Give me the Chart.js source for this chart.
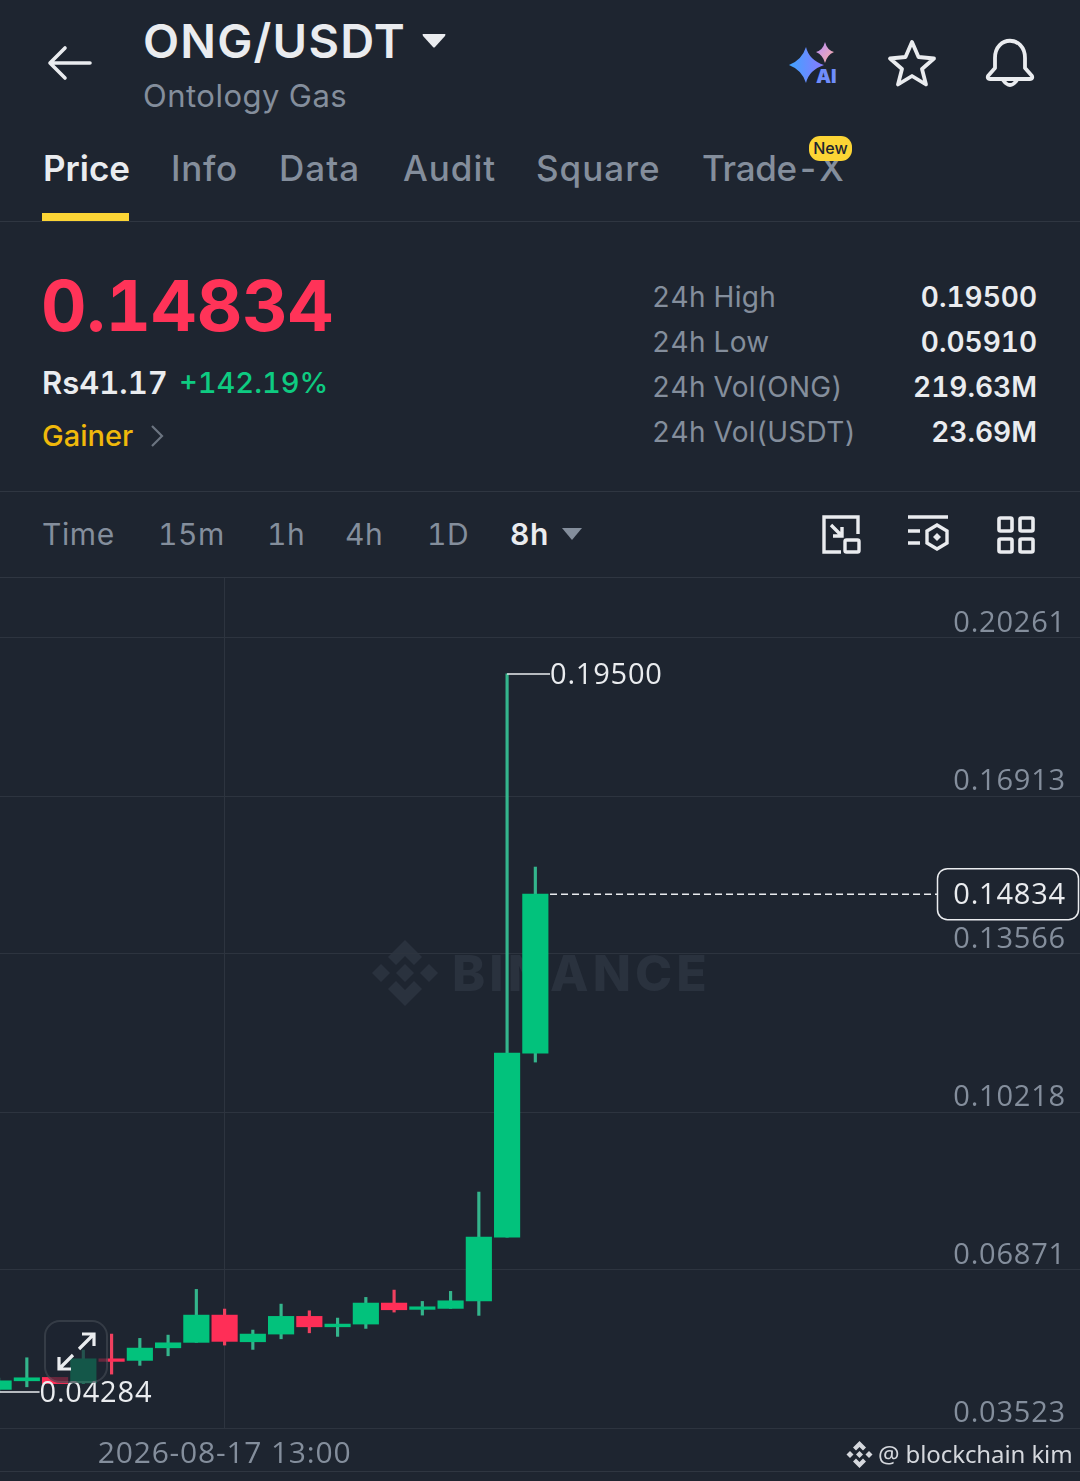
<!DOCTYPE html>
<html lang="en">
<head>
<meta charset="UTF-8">
<title>ONG/USDT</title>
<style>
  html, body { margin: 0; padding: 0; background: #1e2530; }
  body { position: relative; width: 1080px; height: 1481px; overflow: hidden; font-family: Inter, sans-serif; color: #eaecef; font-variant-numeric: tabular-nums; }
  .t { position: absolute; white-space: nowrap; line-height: 1; }
  .grey { color: #848e9c; }
  .tab { top: 151px; font-size: 35px; color: #848e9c; font-weight: 500; letter-spacing: .7px; }
  .rng { top: 519px; font-size: 30px; color: #848e9c; letter-spacing: .6px; }
  .lbl { left: 652px; font-size: 28px; color: #848e9c; letter-spacing: .3px; }
  .val { right: 43px; font-size: 28px; font-weight: 600; }
  .hr { position: absolute; left: 0; width: 1080px; height: 1px; background: #2f3641; }
  svg { position: absolute; overflow: visible; }
  #chart { position: absolute; left: 0; top: 578px; }
</style>
<script src="https://cdn.jsdelivr.net/npm/chart.js"></script>
</head>
<body>
<!-- header -->
<svg style="left:48px;top:46px" width="44" height="34" fill="none" stroke="#eaecef" stroke-width="3.6" stroke-linecap="round" stroke-linejoin="round"><path d="M2 17H42M17 2L2 17L17 32"/></svg>
<div class="t" style="left:143px;top:17px;font-size:47px;font-weight:600;letter-spacing:1.2px">ONG/USDT</div>
<svg style="left:422px;top:34px" width="24" height="14"><path d="M1 0H23Q24 0 23 2L13 13Q12 14 11 13L1 2Q0 0 1 0Z" fill="#eaecef"/></svg>
<div class="t grey" style="left:143px;top:80px;font-size:31px;letter-spacing:.5px">Ontology Gas</div>

<svg style="left:788px;top:40px" width="52" height="46">
  <defs>
    <linearGradient id="aiA" x1="0" y1="0" x2="1" y2="0"><stop offset="0" stop-color="#3fa4ff"/><stop offset="1" stop-color="#8a78ff"/></linearGradient>
    <linearGradient id="aiB" x1="0" y1="0" x2="1" y2="1"><stop offset="0" stop-color="#b48cff"/><stop offset="1" stop-color="#ffb0a0"/></linearGradient>
  </defs>
  <path d="M18 7Q21 20 36 25Q21 30 18 43Q14 30 1 25Q14 20 18 7Z" fill="url(#aiA)"/>
  <path d="M37 2Q39 10 46 12Q39 15 37 23Q35 15 28 12Q35 10 37 2Z" fill="url(#aiB)"/>
  <text x="28" y="43" font-family="Inter" font-size="19" font-weight="900" fill="#6f8dfb">AI</text>
</svg>
<svg style="left:888px;top:40px" width="48" height="47" fill="none" stroke="#eaecef" stroke-width="3.8" stroke-linejoin="round"><path d="M24 2L30.5 17L46 18.5L34 29L38 44.5L24 36L10 44.5L14 29L2 18.5L17.5 17Z"/></svg>
<svg style="left:986px;top:38px" width="48" height="50" fill="none" stroke="#eaecef" stroke-width="3.8" stroke-linejoin="round"><path d="M9 30V20C9 -3 39 -3 39 20V30L46 38Q47 41 44 41H4Q1 41 2 38Z"/><path d="M17 42Q24 52 31 42"/></svg>

<!-- tabs -->
<div class="t tab" style="left:43px;color:#eaecef;font-weight:600;letter-spacing:0">Price</div>
<div class="t tab" style="left:171px">Info</div>
<div class="t tab" style="left:279px;letter-spacing:1px">Data</div>
<div class="t tab" style="left:403px;letter-spacing:1px">Audit</div>
<div class="t tab" style="left:536px;letter-spacing:1px">Square</div>
<div class="t tab" style="left:702px;letter-spacing:-.3px">Trade-X</div>
<div class="t" style="left:809px;top:136px;width:43px;height:25px;line-height:25px;text-align:center;background:#fcd535;border-radius:11px;color:#1e2530;font-size:16px;font-weight:500">New</div>
<div style="position:absolute;left:42px;top:213px;width:87px;height:8px;background:#fcd535"></div>
<div class="hr" style="top:221px"></div>

<!-- price block -->
<div class="t" style="left:41px;top:271px;font-size:70.5px;font-weight:700;color:#ff3358">0.14834</div>
<div class="t" style="left:42px;top:367px;font-size:31px;font-weight:600">Rs41.17</div>
<div class="t" style="left:179px;top:368px;font-size:29px;font-weight:500;color:#0ecb81">+142.19%</div>
<div class="t" style="left:42px;top:421px;font-size:29px;font-weight:500;color:#f0b90b">Gainer</div>
<svg style="left:150px;top:425px" width="14" height="22" fill="none" stroke="#6b7480" stroke-width="2.2"><path d="M2 1L12 11L2 21"/></svg>

<div class="t lbl" style="top:283px">24h High</div><div class="t val" style="top:283px">0.19500</div>
<div class="t lbl" style="top:328px">24h Low</div><div class="t val" style="top:328px">0.05910</div>
<div class="t lbl" style="top:373px">24h Vol(ONG)</div><div class="t val" style="top:373px">219.63M</div>
<div class="t lbl" style="top:418px">24h Vol(USDT)</div><div class="t val" style="top:418px">23.69M</div>
<div class="hr" style="top:491px"></div>

<!-- interval row -->
<div class="t rng" style="left:42px">Time</div>
<div class="t rng" style="left:158px">15m</div>
<div class="t rng" style="left:267px">1h</div>
<div class="t rng" style="left:345px">4h</div>
<div class="t rng" style="left:427px">1D</div>
<div class="t rng" style="left:510px;color:#eaecef;font-weight:600">8h</div>
<svg style="left:562px;top:528px" width="20" height="12"><path d="M0 0H20L10 12Z" fill="#848e9c"/></svg>
<svg style="left:822px;top:515px" width="40" height="40" fill="none" stroke="#eaecef" stroke-width="3.4"><path d="M36 19V2H2V37H19"/><rect x="23" y="25" width="14" height="12" rx="1.5"/><path d="M9 10L20 21M20 12V21H11"/></svg>
<svg style="left:907px;top:515px" width="42" height="40" fill="none" stroke="#eaecef" stroke-width="3.4"><path d="M1 2H41M1 16H13M1 28H13"/><path d="M30 10L40 16V28L30 34L20 28V16Z"/><path d="M30 18L34 22L30 26L26 22Z" fill="#eaecef" stroke="none"/></svg>
<svg style="left:997px;top:516px" width="38" height="38" fill="none" stroke="#eaecef" stroke-width="3.6"><rect x="2" y="2" width="13" height="13" rx="1.5"/><rect x="23" y="2" width="13" height="13" rx="1.5"/><rect x="2" y="23" width="13" height="13" rx="1.5"/><rect x="23" y="23" width="13" height="13" rx="1.5"/></svg>
<div class="hr" style="top:577px"></div>

<!-- watermark under the chart -->
<svg style="left:372px;top:940px" width="66" height="66" fill="#2a323e"><path d="M33 0L50 17L42 25L33 16L24 25L16 17Z"/><path d="M33 66L50 49L42 41L33 50L24 41L16 49Z"/><path d="M33 24L42 33L33 42L24 33Z"/><path d="M9 24L18 33L9 42L0 33Z"/><path d="M57 24L66 33L57 42L48 33Z"/></svg>
<div class="t" style="left:452px;top:948px;font-size:50px;font-weight:800;letter-spacing:4.1px;color:#2a323e">BINANCE</div>

<canvas id="chart" width="1080" height="903"></canvas>

<!-- fullscreen button sits on top of the candles -->
<div style="position:absolute;left:44px;top:1320px;width:60px;height:59px;border:2px solid rgba(255,255,255,.11);border-radius:16px;background:rgba(30,37,48,.68)"></div>
<svg style="left:57px;top:1332px" width="40" height="40" fill="none" stroke="#eaecef" stroke-width="3.2"><path d="M22 17L37 2M25 2H37V14M16 23L2 37M2 25V37H14"/></svg>

<!-- footer -->
<svg style="left:846px;top:1441px" width="27" height="27" fill="#d5d8dd"><path d="M13.5 0L20 6.5L17 9.5L13.5 6L10 9.5L7 6.5Z"/><path d="M13.5 27L20 20.500L17 17.500L13.500 21L10 17.500L7 20.500Z"/><path d="M13.500 10L17 13.500L13.500 17L10 13.500Z"/><path d="M4 10L7.500 13.500L4 17L.5 13.500Z"/><path d="M23 10L26.500 13.500L23 17L19.500 13.500Z"/></svg>
<div class="t" style="left:878px;top:1442px;font-size:24px;font-family:'Noto Sans';letter-spacing:-.1px;color:#d5d8dd">@ blockchain kim</div>
<div class="hr" style="top:1471px"></div>

<script>
// 8h candles, oldest first; the first one is cut off by the left edge
const categories = [
  '2026-08-14 21:00', '2026-08-15 05:00', '2026-08-15 13:00', '2026-08-15 21:00', '2026-08-16 05:00',
  '2026-08-16 13:00', '2026-08-16 21:00', '2026-08-17 05:00', '2026-08-17 13:00', '2026-08-17 21:00',
  '2026-08-18 05:00', '2026-08-18 13:00', '2026-08-18 21:00', '2026-08-19 05:00', '2026-08-19 13:00',
  '2026-08-19 21:00', '2026-08-20 05:00', '2026-08-20 13:00', '2026-08-20 21:00', '2026-08-21 05:00'
];
const opens  = [0.04341, 0.04523, 0.04595, 0.04481, 0.04989, 0.04955, 0.05222, 0.05337, 0.05915, 0.05350,
                0.05513, 0.05888, 0.05667, 0.05725, 0.06170, 0.06036, 0.06057, 0.06218, 0.07568, 0.11467];
const closes = [0.04523, 0.04587, 0.04464, 0.04989, 0.04934, 0.05216, 0.05328, 0.05915, 0.05358, 0.05513,
                0.05888, 0.05667, 0.05725, 0.06170, 0.06028, 0.06091, 0.06218, 0.07568, 0.11467, 0.14834];
const highs  = [0.04580, 0.05011, 0.04595, 0.05174, 0.05513, 0.05422, 0.05491, 0.06460, 0.06043, 0.05598,
                0.06148, 0.06006, 0.05852, 0.06290, 0.06445, 0.06205, 0.06418, 0.08522, 0.19500, 0.15408];
const lows   = [0.04284, 0.04396, 0.04464, 0.04474, 0.04665, 0.04850, 0.05053, 0.05337, 0.05280, 0.05188,
                0.05413, 0.05540, 0.05464, 0.05633, 0.05979, 0.05915, 0.06057, 0.05909, 0.07568, 0.11276];
const yTicks = [0.20261, 0.16913, 0.13566, 0.10218, 0.06871, 0.03523];
const xTick = 8;
const lastPrice = 0.14834, lastIndex = 19;
const highPrice = 0.19500, highIndex = 18;
const lowPrice = 0.04284;

const UP = '#02c27c', DOWN = '#ff2e57';
const UP_WICK = '#34b58c', DOWN_WICK = '#f0405f';
const isUp = i => closes[i] >= opens[i];
const TEXT = '#eaecef', GRID = '#2d343f';
const AXIS_FONT = 'Open Sans';

// price labels on the marker lines
const priceMarks = {
  id: 'priceMarks',
  beforeDraw(chart) {
    chart.ctx.letterSpacing = '0.8px';
  },
  afterDatasetsDraw(chart) {
    const { ctx, scales: { x, y } } = chart;
    ctx.save();
    ctx.font = '29px "' + AXIS_FONT + '"';
    ctx.textBaseline = 'middle';
    ctx.fillStyle = TEXT;
    ctx.fillText(highPrice.toFixed(5), x.getPixelForValue(highIndex + 1.52), y.getPixelForValue(highPrice) + 2);
    ctx.fillText(lowPrice.toFixed(5), x.getPixelForValue(1.45), y.getPixelForValue(lowPrice) + 2);

    const py = y.getPixelForValue(lastPrice);
    ctx.beginPath();
    ctx.roundRect(937.5, py - 25.5, 141, 51, 10);
    ctx.fillStyle = '#1e2530';
    ctx.fill();
    ctx.strokeStyle = TEXT;
    ctx.lineWidth = 1.5;
    ctx.stroke();
    ctx.fillStyle = TEXT;
    ctx.textAlign = 'right';
    ctx.fillText(lastPrice.toFixed(5), 1066, py + 2);
    ctx.restore();
  }
};

new Chart(document.getElementById('chart'), {
  data: {
    datasets: [
      {
        type: 'line',
        data: [{ x: lastIndex + 0.52, y: lastPrice }, { x: 33.22, y: lastPrice }],
        borderColor: TEXT, borderWidth: 1.5, borderDash: [7, 4], pointRadius: 0, order: 0
      },
      {
        type: 'line',
        data: [{ x: highIndex, y: highPrice }, { x: highIndex + 1.52, y: highPrice }],
        borderColor: TEXT, borderWidth: 1.5, pointRadius: 0, order: 0
      },
      {
        type: 'line',
        data: [{ x: 0, y: lowPrice }, { x: 1.45, y: lowPrice }],
        borderColor: TEXT, borderWidth: 1.5, pointRadius: 0, order: 0
      },
      {
        type: 'bar',
        data: opens.map((o, i) => ({ x: i, y: [o, closes[i]] })),
        backgroundColor: opens.map((o, i) => isUp(i) ? UP : DOWN),
        barThickness: 25.5, grouped: false, order: 1
      },
      {
        type: 'bar',
        data: lows.map((l, i) => ({ x: i, y: [l, highs[i]] })),
        backgroundColor: lows.map((l, i) => isUp(i) ? UP_WICK : DOWN_WICK),
        barThickness: 2.5, grouped: false, order: 2
      }
    ]
  },
  options: {
    responsive: false,
    animation: false,
    layout: { padding: 0 },
    plugins: { legend: { display: false }, tooltip: { enabled: false } },
    scales: {
      x: {
        type: 'linear',
        offset: false,
        min: 0.05,
        max: 38.28,
        grid: { color: GRID, drawTicks: false, offset: false },
        border: { display: false },
        afterBuildTicks(scale) { scale.ticks = [{ value: xTick }]; },
        afterFit(scale) { scale.height = 53; scale.paddingLeft = 0; scale.paddingRight = 0; },
        ticks: {
          autoSkip: false, maxRotation: 0, padding: 8,
          color: '#848e9c', font: { family: AXIS_FONT, size: 30 },
          callback: v => categories[v]
        }
      },
      y: {
        type: 'linear',
        position: 'right',
        min: 0.03523,
        max: 0.21532,
        grid: { color: GRID, drawTicks: false },
        border: { display: false },
        afterBuildTicks(scale) { scale.ticks = yTicks.map(value => ({ value })); },
        afterFit(scale) { scale.width = 0; scale.paddingTop = 0; scale.paddingBottom = 0; },
        ticks: {
          mirror: true, padding: -14, labelOffset: -14,
          color: '#848e9c', font: { family: AXIS_FONT, size: 29 },
          callback: v => v.toFixed(5)
        }
      }
    }
  },
  plugins: [priceMarks]
});
</script>
</body>
</html>
